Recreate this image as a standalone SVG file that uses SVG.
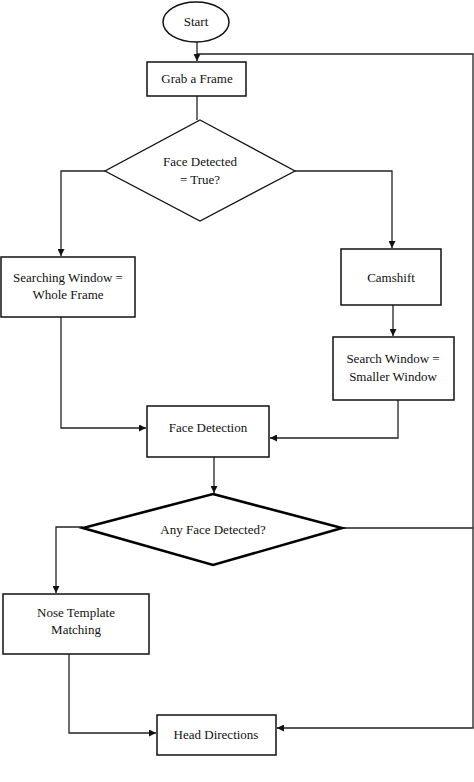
<svg xmlns="http://www.w3.org/2000/svg" width="474" height="782" viewBox="0 0 474 782">
<style>
.box{fill:#fff;stroke:#111;stroke-width:1.5}
.dia{fill:#fff;stroke:#111;stroke-width:1.3}
.dia2{fill:#fff;stroke:#000;stroke-width:2.6}
.ln{fill:none;stroke:#222;stroke-width:1.3}
.t{font-family:'Liberation Serif','Times New Roman',Times,'DejaVu Serif',serif;font-size:13px;fill:#111;text-anchor:middle}
</style>
<defs>
<marker id="ah" viewBox="0 0 10 10" refX="10" refY="5" markerWidth="7" markerHeight="7" markerUnits="userSpaceOnUse" orient="auto">
<path d="M0,0 L10,5 L0,10 Z" fill="#111"/>
</marker>
</defs>
<g id="connectors">
<path class="ln" d="M197,42 V61" marker-end="url(#ah)"/>
<path class="ln" d="M197,54 H473 V728 H277" marker-end="url(#ah)"/>
<path class="ln" d="M197,96 V120"/>
<path class="ln" d="M105,171 H61 V256" marker-end="url(#ah)"/>
<path class="ln" d="M295,171 H392 V248" marker-end="url(#ah)"/>
<path class="ln" d="M393,305 V336" marker-end="url(#ah)"/>
<path class="ln" d="M61,317 V428 H146" marker-end="url(#ah)"/>
<path class="ln" d="M398,400 V438 H270" marker-end="url(#ah)"/>
<path class="ln" d="M214,457 V493" marker-end="url(#ah)"/>
<path class="ln" d="M342,528 H473"/>
<path class="ln" d="M83,527 H56 V593" marker-end="url(#ah)"/>
<path class="ln" d="M69,654 V733 H156" marker-end="url(#ah)"/>
</g>
<g id="start">
<ellipse cx="196" cy="22" rx="33" ry="20" class="box"/>
<text class="t" x="196" y="26" font-family="Liberation Serif, serif">Start</text>
</g>
<g id="grab">
<rect x="147" y="62" width="99" height="34" class="box"/>
<text class="t" x="197" y="83" font-family="Liberation Serif, serif">Grab a Frame</text>
</g>
<g id="decision1">
<polygon points="200,120 295,171 200,221 105,171" class="dia"/>
<text class="t" x="200" y="166" font-family="Liberation Serif, serif">Face Detected</text>
<text class="t" x="200" y="184" font-family="Liberation Serif, serif">= True?</text>
</g>
<g id="searching">
<rect x="1" y="257" width="134" height="60" class="box"/>
<text class="t" x="68" y="282" font-family="Liberation Serif, serif">Searching Window =</text>
<text class="t" x="68" y="299" font-family="Liberation Serif, serif">Whole Frame</text>
</g>
<g id="camshift">
<rect x="341" y="249" width="100" height="56" class="box"/>
<text class="t" x="391" y="282" font-family="Liberation Serif, serif">Camshift</text>
</g>
<g id="searchwin">
<rect x="333" y="337" width="121" height="63" class="box"/>
<text class="t" x="393" y="363" font-family="Liberation Serif, serif">Search Window =</text>
<text class="t" x="393" y="381" font-family="Liberation Serif, serif">Smaller Window</text>
</g>
<g id="facedet">
<rect x="147" y="406" width="122" height="51" class="box"/>
<text class="t" x="208" y="432" font-family="Liberation Serif, serif">Face Detection</text>
</g>
<g id="decision2">
<polygon points="213,494 342,528 213,565 83,528" class="dia2"/>
<text class="t" x="213" y="534" font-family="Liberation Serif, serif">Any Face Detected?</text>
</g>
<g id="nose">
<rect x="3" y="594" width="146" height="60" class="box"/>
<text class="t" x="76" y="617" font-family="Liberation Serif, serif">Nose Template</text>
<text class="t" x="76" y="634" font-family="Liberation Serif, serif">Matching</text>
</g>
<g id="head">
<rect x="157" y="715" width="119" height="40" class="box"/>
<text class="t" x="216" y="739" font-family="Liberation Serif, serif">Head Directions</text>
</g>
</svg>
